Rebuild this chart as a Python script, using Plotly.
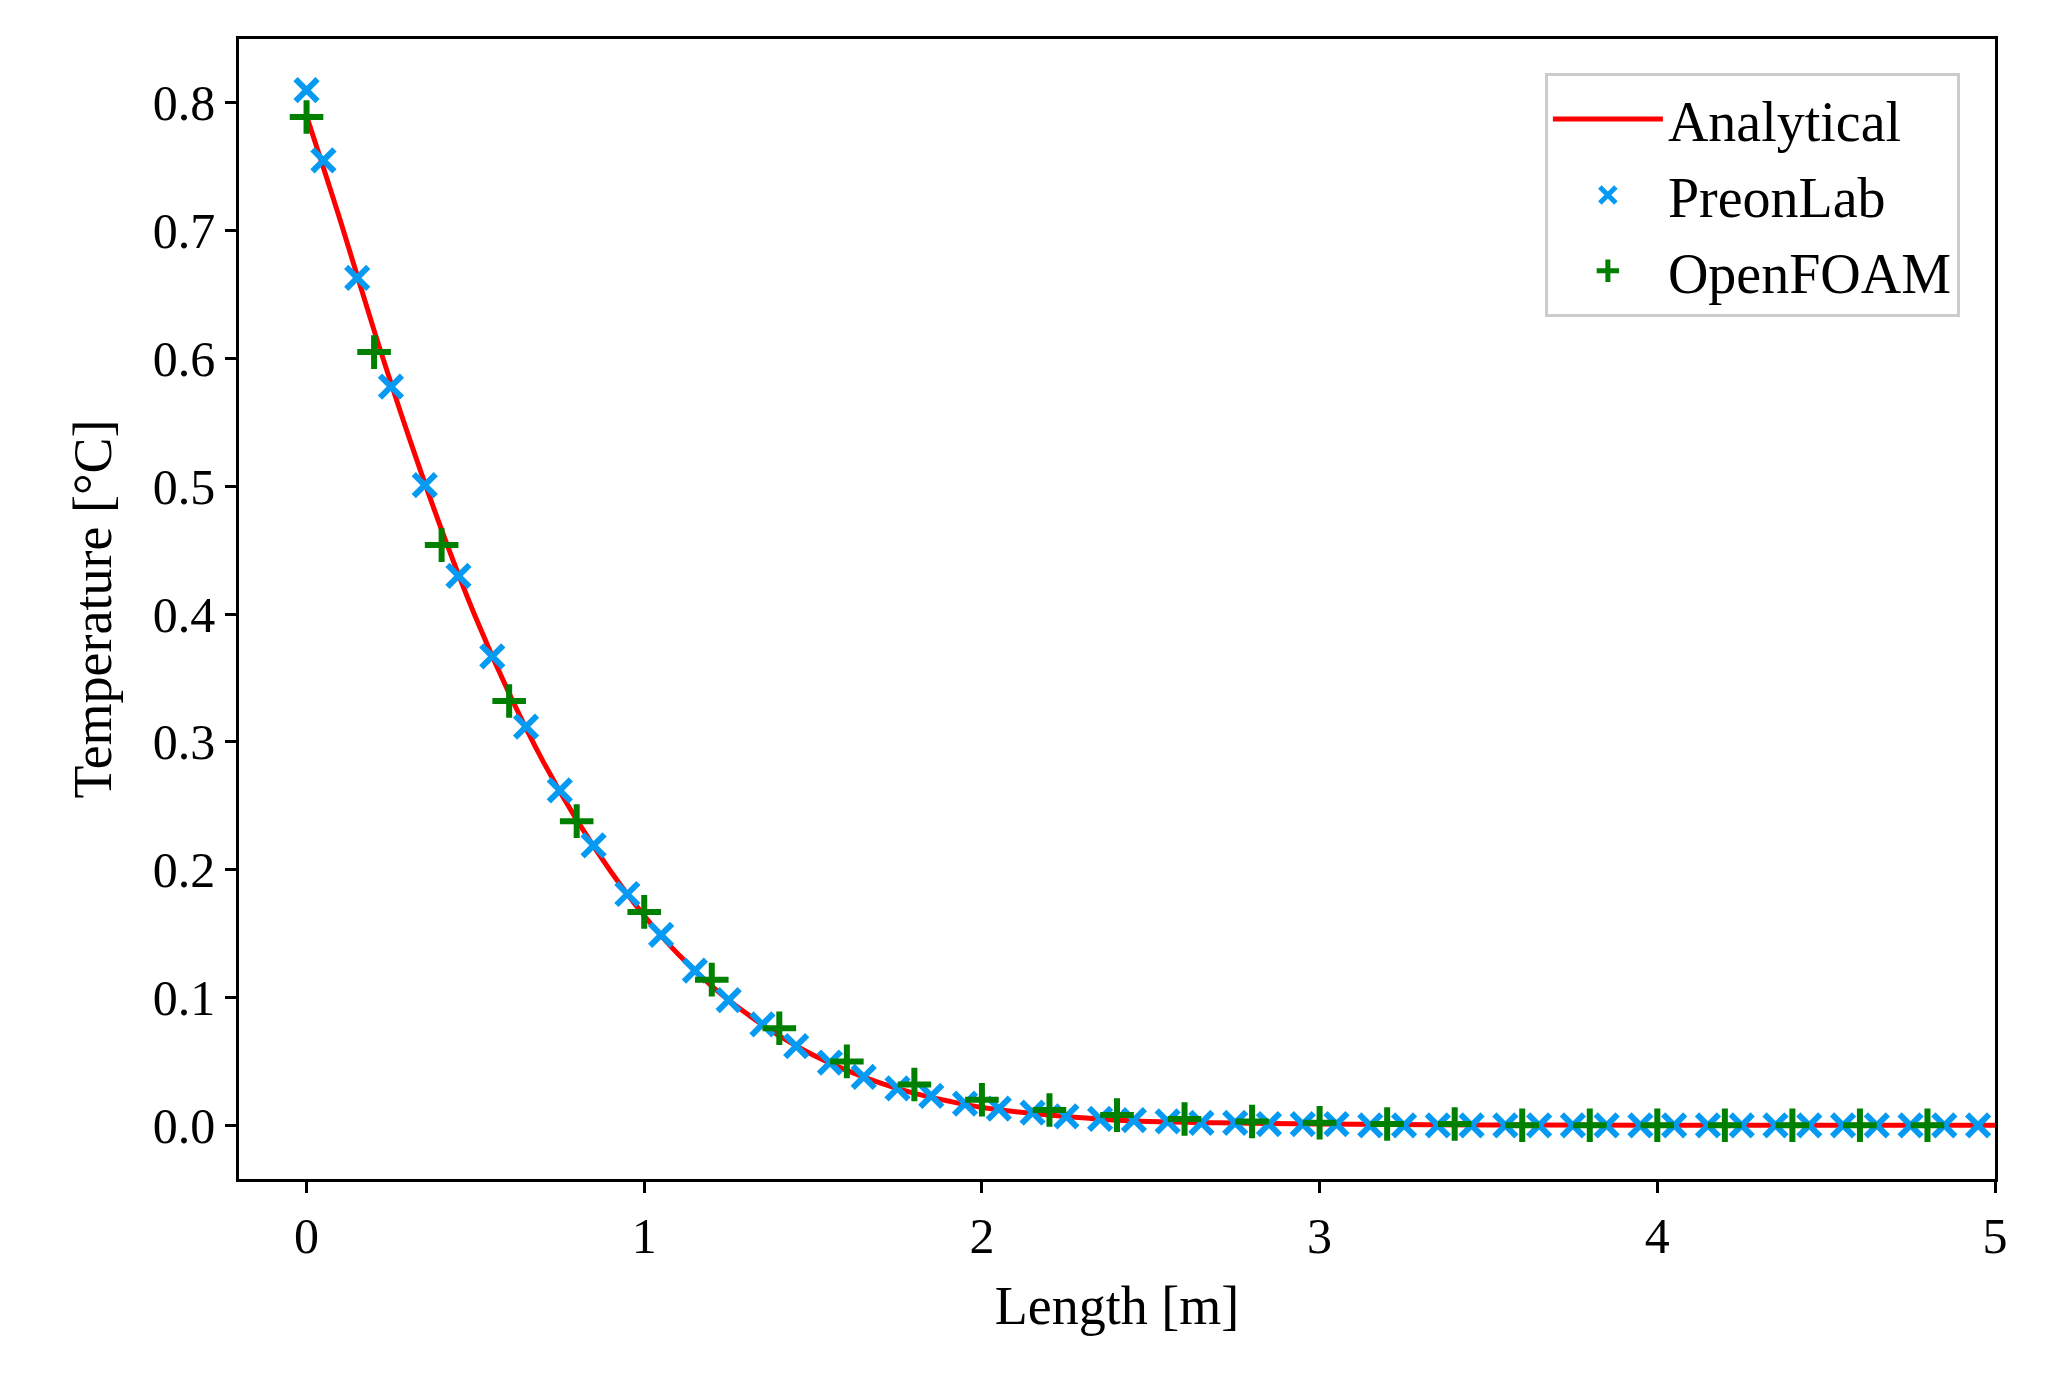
import plotly.graph_objects as go

# analytical solution
x_ana = [0, 0.1, 0.2, 0.3, 0.4, 0.5, 0.6, 0.7, 0.8, 0.9, 1.0, 1.1, 1.2, 1.3, 1.4,
         1.5, 1.6, 1.7, 1.8, 1.9, 2.0, 2.2, 2.4, 2.7, 3.0, 3.5, 4.0, 5.0]
t_ana = [0.79, 0.708, 0.622, 0.541, 0.466, 0.398, 0.338, 0.285, 0.239, 0.199,
         0.164, 0.134, 0.109, 0.088, 0.070, 0.055, 0.043, 0.033, 0.025, 0.019,
         0.014, 0.008, 0.004, 0.002, 0.001, 0.0003, 0.0001, 0.0]

# PreonLab samples
x_preon = [0, 0.05, 0.15, 0.25, 0.35, 0.45, 0.55, 0.65, 0.75, 0.85, 0.95, 1.05,
           1.15, 1.25, 1.35, 1.45, 1.55, 1.65, 1.75, 1.85, 1.95, 2.05, 2.15, 2.25,
           2.35, 2.45, 2.55, 2.65, 2.75, 2.85, 2.95, 3.05, 3.15, 3.25, 3.35, 3.45,
           3.55, 3.65, 3.75, 3.85, 3.95, 4.05, 4.15, 4.25, 4.35, 4.45, 4.55, 4.65,
           4.75, 4.85, 4.95]
t_preon = [0.81, 0.755, 0.663, 0.578, 0.501, 0.430, 0.367, 0.312, 0.262, 0.219,
           0.181, 0.149, 0.121, 0.098, 0.079, 0.062, 0.049, 0.038, 0.029, 0.023,
           0.017, 0.013, 0.010, 0.007, 0.005, 0.004, 0.003, 0.002, 0.002, 0.001,
           0.001, 0.001, 0.0, 0.0, 0.0, 0.0, 0.0, 0.0, 0.0, 0.0, 0.0, 0.0, 0.0,
           0.0, 0.0, 0.0, 0.0, 0.0, 0.0, 0.0, 0.0]

# OpenFOAM samples
x_foam = [0, 0.2, 0.4, 0.6, 0.8, 1.0, 1.2, 1.4, 1.6, 1.8, 2.0, 2.2, 2.4, 2.6,
          2.8, 3.0, 3.2, 3.4, 3.6, 3.8, 4.0, 4.2, 4.4, 4.6, 4.8]
t_foam = [0.789, 0.605, 0.454, 0.332, 0.238, 0.167, 0.114, 0.076, 0.050, 0.032,
          0.020, 0.012, 0.008, 0.005, 0.003, 0.002, 0.001, 0.001, 0.0, 0.0, 0.0,
          0.0, 0.0, 0.0, 0.0]

fig = go.Figure()
fig.add_trace(go.Scatter(x=x_ana, y=t_ana, mode="lines", name="Analytical",
                         line=dict(color="red", width=5, shape="spline")))
fig.add_trace(go.Scatter(x=x_preon, y=t_preon, mode="markers", name="PreonLab",
                         marker=dict(symbol="x-thin", size=22, color="#069AF3",
                                     line=dict(color="#069AF3", width=6))))
fig.add_trace(go.Scatter(x=x_foam, y=t_foam, mode="markers", name="OpenFOAM",
                         marker=dict(symbol="cross-thin", size=24, color="green",
                                     line=dict(color="green", width=6))))

axis_style = dict(showline=True, linecolor="black", linewidth=2.5, mirror=True,
                  ticks="outside", ticklen=11, tickwidth=2.5, tickcolor="black",
                  showgrid=False, zeroline=False,
                  tickfont=dict(size=50, color="black"))

fig.update_layout(
    width=2048, height=1394,
    paper_bgcolor="white", plot_bgcolor="white",
    font=dict(family="Liberation Serif", color="black", size=50),
    margin=dict(l=231, r=61, t=31, b=223),
    xaxis=dict(axis_style, range=[-0.2, 5.0], dtick=1,
               title=dict(text="Length [m]", font=dict(size=54), standoff=24)),
    yaxis=dict(axis_style, range=[-0.042, 0.85], dtick=0.1, tickformat=".1f",
               title=dict(text="Temperature [°C]", font=dict(size=54), standoff=24)),
    legend=dict(x=0.98, xanchor="right", y=0.97, yanchor="top",
                bgcolor="white", bordercolor="#cccccc", borderwidth=3,
                font=dict(size=56), itemwidth=110),
)

fig.write_html("out.html")
